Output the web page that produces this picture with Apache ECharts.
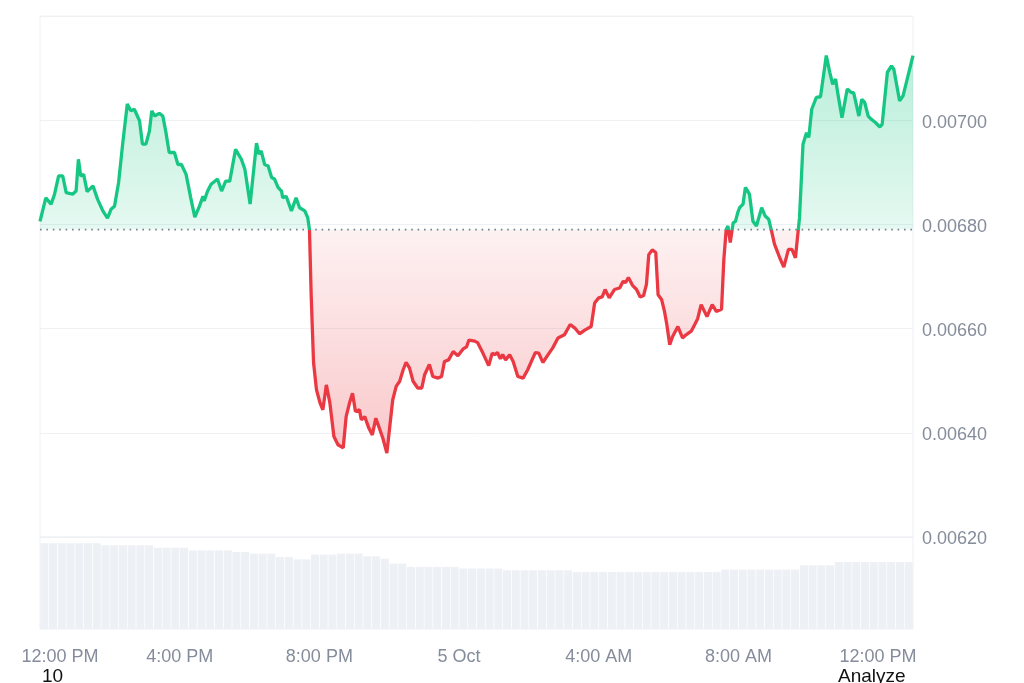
<!DOCTYPE html>
<html>
<head>
<meta charset="utf-8">
<script src="https://cdn.jsdelivr.net/npm/echarts@6/dist/echarts.min.js"></script>
<style>
  html, body { margin: 0; padding: 0; background: #fff; }
  #main { width: 1024px; height: 683px; }
</style>
</head>
<body>
<div id="main"></div>
<script>
// minutes since 12:00 PM, 4 Oct
var times = [
  0, 10, 19, 25, 32, 39, 45, 56, 62, 66,
  70, 75, 81, 91, 99, 108, 111, 116, 122, 128,
  135, 142, 150, 156, 162, 171, 176, 182, 188, 192,
  197, 205, 211, 216, 222, 231, 237, 243, 251, 259,
  266, 274, 280, 282, 288, 294, 305, 312, 319, 326,
  336, 346, 352, 361, 372, 376, 380, 386, 392, 398,
  403, 409, 415, 417, 423, 432, 440, 446, 455, 460,
  463, 466, 470, 475, 481, 486, 492, 498, 505, 512,
  521, 526, 532, 537, 542, 549, 552, 558, 565, 571,
  577, 584, 589, 596, 601, 606, 612, 618, 624, 629,
  635, 641, 649, 656, 661, 669, 675, 684, 690, 695,
  702, 710, 718, 727, 733, 737, 747, 752, 761, 771,
  777, 781, 786, 791, 795, 800, 807, 813, 821, 830,
  838, 851, 857, 864, 873, 881, 890, 901, 911, 919,
  927, 936, 947, 953, 960, 966, 971, 978, 987, 996,
  1002, 1006, 1011, 1018, 1025, 1031, 1037, 1042, 1046, 1052,
  1058, 1062, 1068, 1073, 1077, 1082, 1087, 1096, 1104, 1110,
  1119, 1125, 1130, 1136, 1146, 1155, 1162, 1171, 1175, 1179,
  1182, 1186, 1191, 1195, 1199, 1202, 1208, 1212, 1219, 1225,
  1231, 1240, 1246, 1252, 1257, 1262, 1271, 1278, 1286, 1292,
  1298, 1305, 1311, 1317, 1321, 1326, 1334, 1341, 1345, 1351,
  1357, 1362, 1367, 1371, 1378, 1387, 1394, 1398, 1407, 1412,
  1417, 1423, 1428, 1435, 1443, 1447, 1456, 1463, 1467, 1477,
  1483, 1500
];

var prices = [
  0.006806, 0.006851, 0.006839, 0.006858, 0.006893, 0.006893, 0.006861, 0.006858, 0.006864, 0.006925,
  0.006893, 0.006896, 0.006863, 0.006874, 0.006848, 0.006826, 0.006829, 0.006812, 0.006829, 0.006835,
  0.006880, 0.006954, 0.007031, 0.007018, 0.007021, 0.006999, 0.006954, 0.006954, 0.006979, 0.007018,
  0.007008, 0.007013, 0.007008, 0.006979, 0.006938, 0.006938, 0.006915, 0.006915, 0.006896, 0.006851,
  0.006814, 0.006835, 0.006854, 0.006845, 0.006864, 0.006877, 0.006887, 0.006864, 0.006883, 0.006883,
  0.006944, 0.006925, 0.006906, 0.006839, 0.006956, 0.006935, 0.006941, 0.006915, 0.006912, 0.006890,
  0.006887, 0.006871, 0.006864, 0.006851, 0.006854, 0.006826, 0.006851, 0.006832, 0.006826, 0.006813,
  0.006790, 0.006662, 0.006535, 0.006483, 0.006458, 0.006444, 0.006492, 0.006458, 0.006393, 0.006377,
  0.006371, 0.006431, 0.006458, 0.006476, 0.006441, 0.006444, 0.006425, 0.006431, 0.006409, 0.006396,
  0.006428, 0.006406, 0.006390, 0.006361, 0.006412, 0.006463, 0.006489, 0.006499, 0.006521, 0.006535,
  0.006524, 0.006499, 0.006486, 0.006486, 0.006512, 0.006531, 0.006508, 0.006505, 0.006508, 0.006537,
  0.006540, 0.006556, 0.006548, 0.006561, 0.006565, 0.006578, 0.006576, 0.006573, 0.006553, 0.006529,
  0.006553, 0.006550, 0.006554, 0.006542, 0.006550, 0.006540, 0.006550, 0.006537, 0.006508, 0.006505,
  0.006521, 0.006554, 0.006553, 0.006535, 0.006550, 0.006563, 0.006582, 0.006588, 0.006608, 0.006601,
  0.006590, 0.006597, 0.006604, 0.006649, 0.006659, 0.006661, 0.006675, 0.006659, 0.006675, 0.006678,
  0.006691, 0.006688, 0.006698, 0.006683, 0.006675, 0.006661, 0.006663, 0.006685, 0.006742, 0.006751,
  0.006746, 0.006665, 0.006656, 0.006633, 0.006608, 0.006569, 0.006585, 0.006604, 0.006582, 0.006588,
  0.006595, 0.006608, 0.006619, 0.006646, 0.006623, 0.006646, 0.006633, 0.006637, 0.006733, 0.006790,
  0.006797, 0.006765, 0.006803, 0.006806, 0.006823, 0.006832, 0.006839, 0.006871, 0.006858, 0.006806,
  0.006797, 0.006832, 0.006816, 0.006810, 0.006787, 0.006762, 0.006736, 0.006718, 0.006752, 0.006752,
  0.006736, 0.006813, 0.006954, 0.006976, 0.006967, 0.007021, 0.007044, 0.007045, 0.007076, 0.007124,
  0.007092, 0.007069, 0.007079, 0.007050, 0.007005, 0.007060, 0.007053, 0.007053, 0.007008, 0.007040,
  0.007034, 0.007008, 0.007002, 0.006996, 0.006987, 0.006992, 0.007092, 0.007104, 0.007098, 0.007037,
  0.007047, 0.007124
];

var basePrice = 0.00679;

// 15 minute buckets, relative volume
var volumes = [
  98, 98, 98, 98, 98, 98, 98, 95.5, 95.5, 95.5,
  95.5, 95.5, 95.5, 92.8, 92.8, 92.8, 92.8, 89.8, 89.8, 89.8,
  89.8, 89.8, 87.8, 87.8, 86, 86, 86, 82.2, 82.2, 79.5,
  79.5, 84.9, 84.9, 84.9, 86, 86, 86, 83, 83, 80.3,
  74.7, 74.7, 70.8, 70.8, 70.8, 70.8, 70.8, 70.8, 69, 69,
  69, 69, 69, 67, 67, 67, 67, 67, 67, 67,
  67, 65.1, 65.1, 65.1, 65.1, 65.1, 65.1, 65.1, 65.1, 65.1,
  65.1, 65.1, 65.1, 65.1, 65.1, 65.1, 65.1, 65.1, 67.8, 67.8,
  67.8, 67.8, 67.8, 67.8, 67.8, 67.8, 67.8, 72.7, 72.7, 72.7,
  72.7, 76.5, 76.5, 76.5, 76.5, 76.5, 76.5, 76.5, 76.5, 76.5
];

var tickMinutes = [0, 240, 480, 720, 960, 1200, 1440];
var endMinute = 1500;

var green = "#16c784";
var red = "#ea3943";
var labelColor = "#858c9b";
var gridColor = "#eef0f3";

var priceData = times.map(function (t, i) {
	return [t, prices[i]];
});
var volumeData = volumes.map(function (v, i) {
	return [(i + 0.5) * 15, v];
});
var baseData = [[0, basePrice], [endMinute, basePrice]];

var clockLabel = function (m) {
	var h = (12 + Math.floor(m / 60)) % 24;
	if (h === 0) return "5 Oct";
	var hh = h % 12 === 0 ? 12 : h % 12;
	return hh + ":00 " + (h < 12 ? "AM" : "PM");
};

var maxP = Math.max.apply(null, prices);
var minP = Math.min.apply(null, prices);
var baseOffset = (maxP - basePrice) / (maxP - minP);

var chart = echarts.init(document.getElementById("main"));
var option = {
	animation: false,
	backgroundColor: "#fff",
	textStyle: { fontFamily: "Liberation Sans, Arial, sans-serif" },
	grid: [
		{
			left: 40, right: 111, top: 16, bottom: 146,
			show: true, borderColor: gridColor, borderWidth: 1,
			outerBoundsMode: "none",
		},
		{
			left: 40, right: 111, top: 537, bottom: 54,
			show: true, borderColor: gridColor, borderWidth: 1,
			outerBoundsMode: "none",
		},
	],
	xAxis: [
		{
			type: "value", gridIndex: 0, min: 0, max: endMinute, interval: 240,
			axisLine: { show: false }, axisTick: { show: false },
			axisLabel: { show: false }, splitLine: { show: false },
		},
		{
			type: "value", gridIndex: 1, min: 0, max: endMinute, interval: 240,
			axisLine: { show: false }, axisTick: { show: false },
			splitLine: { show: false },
			axisLabel: {
				show: true,
				showMaxLabel: false,
				color: labelColor,
				fontSize: 18,
				margin: 19,
				formatter: function (v) {
					if (tickMinutes.indexOf(v) < 0) return "";
					if (v === 0) return "{first|" + clockLabel(v) + "}";
					return clockLabel(v);
				},
				rich: {
					first: { color: labelColor, fontSize: 18, padding: [0, 0, 0, 40] },
				},
			},
		},
	],
	yAxis: [
		{
			type: "value", gridIndex: 0, position: "right",
			min: 0.0062, max: 0.0072, interval: 0.0002,
			axisLine: { show: false }, axisTick: { show: false },
			splitLine: { show: true, lineStyle: { color: gridColor, width: 1 } },
			axisLabel: {
				showMaxLabel: false,
				color: labelColor,
				fontSize: 18,
				margin: 9,
				formatter: function (v) {
					return "{v|" + v.toFixed(5) + "}";
				},
				rich: {
					v: { color: labelColor, fontSize: 18, padding: [5, 0, 0, 0] },
				},
			},
		},
		{
			type: "value", gridIndex: 1, min: 0, max: 105,
			show: false, splitLine: { show: false },
		},
	],
	visualMap: {
		type: "piecewise",
		show: false,
		seriesIndex: 0,
		dimension: 1,
		pieces: [
			{ min: 0, max: basePrice, color: red },
			{ min: basePrice, max: 1, color: green },
		],
	},
	series: [
		{
			name: "price",
			type: "line",
			xAxisIndex: 0,
			yAxisIndex: 0,
			data: priceData,
			showSymbol: false,
			symbol: "none",
			lineStyle: { width: 3.3 },
			areaStyle: {
				origin: basePrice,
				opacity: 1,
				color: {
					type: "linear", x: 0, y: 0, x2: 0, y2: 1,
					colorStops: [
						{ offset: 0, color: "rgba(22,199,132,0.30)" },
						{ offset: baseOffset, color: "rgba(22,199,132,0.11)" },
						{ offset: baseOffset, color: "rgba(234,57,67,0.07)" },
						{ offset: 1, color: "rgba(234,57,67,0.28)" },
					],
				},
			},
			z: 3,
		},
		{
			name: "baseline",
			type: "line",
			xAxisIndex: 0,
			yAxisIndex: 0,
			data: baseData,
			showSymbol: false,
			symbol: "none",
			silent: true,
			lineStyle: { color: "#7a808a", type: [1.6, 4.8], width: 1.6 },
			z: 4,
		},
		{
			name: "volume",
			type: "bar",
			xAxisIndex: 1,
			yAxisIndex: 1,
			data: volumeData,
			barWidth: 8,
			itemStyle: { color: "#edf0f4" },
			silent: true,
		},
	],
	graphic: [
		{
			type: "text", left: 42, top: 667,
			style: { text: "10", fill: "#111", fontSize: 19, fontFamily: "Liberation Sans, Arial, sans-serif" },
		},
		{
			type: "text", left: 838, top: 667,
			style: { text: "Analyze", fill: "#111", fontSize: 19, fontFamily: "Liberation Sans, Arial, sans-serif" },
		},
	],
};

option && chart.setOption(option);
</script>
</body>
</html>
